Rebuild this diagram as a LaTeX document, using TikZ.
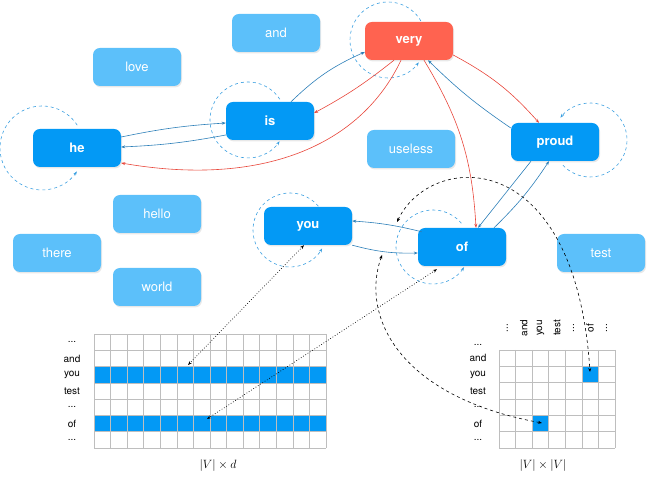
\documentclass[tikz,border=0pt]{standalone}
\usepackage{fontspec}
\setmainfont{TeX Gyre Heros}
\usetikzlibrary{shadows,calc,arrows.meta}
\definecolor{dk}{HTML}{0399F5}
\definecolor{lt}{HTML}{5CC0FA}
\definecolor{rd}{HTML}{FF6350}
\definecolor{eb}{HTML}{2C7FB8}
\definecolor{er}{HTML}{E8463A}
\definecolor{lp}{HTML}{3A9FE0}
\definecolor{gr}{HTML}{BEBEBE}
\def\myd{...}
\begin{document}
\begin{tikzpicture}[x=1pt,y=1pt,
  box/.style={rounded corners=7pt,minimum width=88pt,minimum height=38pt,text=white,font=\fontsize{13}{15}\selectfont,drop shadow={opacity=0.18,shadow xshift=1pt,shadow yshift=-1.5pt}},
  dn/.style={box,fill=dk,font=\fontsize{13}{15}\selectfont\bfseries},
  ln/.style={box,fill=lt},
  rn/.style={box,fill=rd,font=\fontsize{13}{15}\selectfont\bfseries},
  be/.style={eb,line width=0.6pt,-{Stealth[length=4pt,width=3pt]}},
  re/.style={er,line width=0.6pt,-{Stealth[length=4pt,width=3pt]}},
  lo/.style={lp,dashed,line width=0.6pt,-{Stealth[length=4pt,width=3pt]}},
  dt/.style={black,dotted,line width=0.7pt,{Stealth[length=4pt,width=3pt]}-{Stealth[length=4pt,width=3pt]}},
  ds/.style={black,dashed,line width=0.6pt,{Stealth[length=4pt,width=3pt]}-{Stealth[length=4pt,width=3pt]}},
  lb/.style={font=\fontsize{10}{12}\selectfont}]
\useasboundingbox (0,0) rectangle (659,487);
% self loops
\draw[lo] ($(42,339)+(33:42)$) arc[start angle=33,end angle=326,radius=42];
\draw[lo] ($(248,367)+(33:38)$) arc[start angle=33,end angle=326,radius=38];
\draw[lo] ($(388,447)+(30:38)$) arc[start angle=30,end angle=324,radius=38];
\draw[lo] ($(290,257)+(40:37)$) arc[start angle=40,end angle=330,radius=37];
\draw[lo] ($(433,240)+(40:37)$) arc[start angle=40,end angle=327,radius=37];
\draw[lo] ($(590,347)+(-137:37)$) arc[start angle=-137,end angle=143,radius=37];
% nodes
\node[ln] (and) at (276,454) {and};
\node[ln] (love) at (137,420) {love};
\node[rn] (very) at (409,446) {very};
\node[dn] (is) at (270,366) {is};
\node[dn] (he) at (77,339) {he};
\node[ln] (useless) at (411,338) {useless};
\node[dn] (proud) at (555,345) {proud};
\node[ln] (hello) at (157,273) {hello};
\node[dn] (you) at (308,261) {you};
\node[ln] (there) at (57,234) {there};
\node[ln] (world) at (157,200) {world};
\node[dn] (of) at (462,240) {of};
\node[ln] (test) at (601,234) {test};
% edges
\draw[be] ([xshift=21pt]is.north) to[bend left=10] ([yshift=-11pt]very.west);
\draw[re] ([xshift=-15pt]very.south) to[bend left=5] ([yshift=8pt]is.east);
\draw[re] ([xshift=-8pt]very.south) .. controls (360,340) and (260,300) .. ([yshift=-15pt]he.east);
\draw[be] ([yshift=11pt]he.east) to[bend left=4] ([yshift=-2pt]is.west);
\draw[be] ([yshift=-14pt]is.west) to[bend left=4] ([yshift=1pt]he.east);
\draw[re] ([yshift=-14pt]very.east) to[bend left=10] ([xshift=-16pt]proud.north);
\draw[be] ([yshift=14pt]proud.west) to[bend left=5] ([xshift=19pt]very.south);
\draw[re] ([xshift=15pt]very.south) to[bend left=14] ([xshift=14pt]of.north);
\draw[be] ([xshift=-24pt]proud.south) -- ([xshift=16pt]of.north);
\draw[be] ([xshift=32pt]of.north) to[bend right=6] ([xshift=-6pt]proud.south);
\draw[be] ([xshift=4pt,yshift=-4pt]of.north west) to[bend right=5] ([yshift=5pt]you.east);
\draw[be] (you.south east) to[bend right=8] ([yshift=-6pt]of.west);
% matrices
\def\cw{16.57}\def\chl{16.29}\def\chr{16.33}
\fill[dk] (94,{153-2*\chl}) rectangle (326,{153-3*\chl});
\fill[dk] (94,{153-5*\chl}) rectangle (326,{153-6*\chl});
\fill[dk] ({499+5*\cw},{137-\chr}) rectangle ({499+6*\cw},{137-2*\chr});
\fill[dk] ({499+2*\cw},{137-4*\chr}) rectangle ({499+3*\cw},{137-5*\chr});
\foreach \i in {0,1,2,3,4,5,6,7,8,9,10,11,12,13,14} \draw[gr,line width=0.5pt] ({94+\i*\cw},153) -- ({94+\i*\cw},39);
\foreach \j in {0,1,2,3,4,5,6,7} \draw[gr,line width=0.5pt] (94,{153-\j*\chl}) -- (326,{153-\j*\chl});
\foreach \i in {0,1,2,3,4,5,6,7} \draw[gr,line width=0.5pt] ({499+\i*\cw},137) -- ({499+\i*\cw},39);
\foreach \j in {0,1,2,3,4,5,6} \draw[gr,line width=0.5pt] (499,{137-\j*\chr}) -- (615,{137-\j*\chr});
\foreach \t [count=\k] in {\myd,and,you,test,\myd,of,\myd}
  \node[lb] (ll\k) at (72,{153-(\k-0.5)*\chl}) {\t};
\node[lb] (rl0) at (478,142) {\myd};
\foreach \t [count=\k] in {and,you,test,\myd,of,\myd}
  \node[lb] (rl\k) at (478,{137-(\k-0.5)*\chr}) {\t};
\foreach \t [count=\k] in {\myd,and,you,test,\myd,of,\myd}
  \node[lb,rotate=90] (cl\k) at ({499+(\k-0.5)*\cw},159) {\t};
\node[font=\large] (cap1) at (218,21) {$|V|\times d$};
\node[font=\large] (cap2) at (543,21) {$|V|\times|V|$};
% links
\coordinate (ly) at (188,122);
\coordinate (lof) at (207,68);
\coordinate (cy) at (590,115);
\coordinate (co) at (542,64);
\coordinate (a1) at (397,265);
\coordinate (a2) at (382,232);
\draw[dt] ([xshift=-4pt]you.south) -- (ly);
\draw[dt] ([xshift=-25pt,yshift=-3pt]of.south) -- (lof);
\draw[ds] (a1) .. controls (430,335) and (575,345) .. (cy);
\draw[ds] (a2) .. controls (360,170) and (400,90) .. (co);
\end{tikzpicture}
\end{document}
